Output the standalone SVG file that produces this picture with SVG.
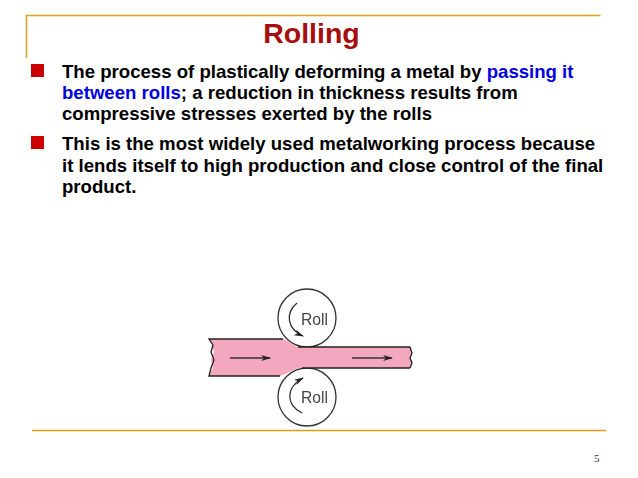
<svg xmlns="http://www.w3.org/2000/svg" width="638" height="478" viewBox="0 0 638 478">
<style>
.t{font-family:"Liberation Sans",Arial,sans-serif;font-size:18.6px;font-weight:700;fill:#000}
.b{fill:#0000e0}
.r{fill:#cc0000}
.g{fill:none;stroke:#d9a520;stroke-width:1.5}
.k{fill:none;stroke:#333;stroke-width:1.3}
.l{font-family:"Liberation Sans",Arial,sans-serif;font-size:16px;fill:#444}
</style>
<defs>
<marker id="a" markerUnits="userSpaceOnUse" markerWidth="10" markerHeight="6" refX="9" refY="3" orient="auto"><path d="M0 0L10 3L0 6L3 3Z" fill="#222"/></marker>
<filter id="s" x="-5%" y="-5%" width="110%" height="110%"><feGaussianBlur stdDeviation="0.4"/></filter>
</defs>
<rect width="638" height="478" fill="#fff"/>
<path class="g" d="M26.500 58V15.500H600.500"/>
<path d="M32 430.500H606" fill="none" stroke="#e09a10" stroke-width="1.500"/>
<text x="311.500" y="43" text-anchor="middle" font-family="'Liberation Sans',Arial,sans-serif" font-size="28.500" font-weight="700" fill="#a80c0c">Rolling</text>
<rect class="r" x="31" y="64" width="13" height="13"/>
<text class="t" x="62" y="78">The process of plastically deforming a metal by <tspan class="b">passing it</tspan></text>
<text class="t" x="62" y="99"><tspan class="b">between rolls</tspan>; a reduction in thickness results from</text>
<text class="t" x="62" y="120">compressive stresses exerted by the rolls</text>
<rect class="r" x="31" y="136" width="13" height="13"/>
<text class="t" x="62" y="150">This is the most widely used metalworking process because</text>
<text class="t" x="62" y="172">it lends itself to high production and close control of the final</text>
<text class="t" x="62" y="193">product.</text>
<g filter="url(#s)">
<g id="roll-top"><circle class="k" cx="307" cy="318" r="29" fill="#fff"/><text class="l" x="301" y="325" textLength="27" lengthAdjust="spacingAndGlyphs">Roll</text></g>
<g id="roll-bottom"><circle class="k" cx="307" cy="397" r="29" fill="#fff"/><text class="l" x="301" y="403" textLength="27" lengthAdjust="spacingAndGlyphs">Roll</text></g>
<g id="strip"><path d="M209 339H283C290 341 295 347 298 347H410L412 352L410 357L412 362L410 368H302C294 368 288 374 280 376H209L213 368L211 360L214 352L212 345Z" fill="#f4a8bf"/>
<path d="M283 339H209L213 345L211 352L214 360L211 368L209 376H280M298 347H410M302 368H410M410 347L412 353L410 358L412 363L410 368" fill="none" stroke="#222" stroke-width="1.300"/></g>
<g id="connectors">
<path class="k" d="M230 358H270" marker-end="url(#a)"/>
<path class="k" d="M352 358H392" marker-end="url(#a)"/>
<path class="k" d="M297 303C285 313 287 329 303 336" marker-end="url(#a)"/>
<path class="k" d="M302 413C286 405 285 388 303 378" marker-end="url(#a)"/>
</g>
</g>
<text x="594" y="462" font-family="'Liberation Serif',serif" font-size="11" fill="#333">5</text>
</svg>
